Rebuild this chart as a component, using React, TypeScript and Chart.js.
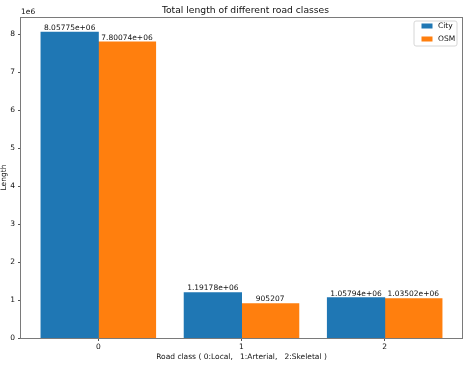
import React, { useEffect, useRef } from "react";
import { Chart, registerables } from "chart.js";

Chart.register(...registerables);

const categories = [0, 1, 2];
const cityValues = [8057750, 1191780, 1057940];
const osmValues = [7800740, 905207, 1035020];
const seriesNames = ["City", "OSM"];
const seriesColors = ["#1f77b4", "#ff7f0e"];
const yTicks = [0, 1, 2, 3, 4, 5, 6, 7, 8];
const yScaleFactor = 1e6;
const titleText = "Total length of different road classes";
const xTitle = "Road class ( 0:Local,   1:Arterial,   2:Skeletal )";
const yTitle = "Length";

const FONT = "'DejaVu Sans', sans-serif";
const FS = 7.5;
const TFS = 9.2;

function fmtG(v: number): string {
  if (v === 0) return "0";
  const e = Math.floor(Math.log10(Math.abs(v)));
  if (e < -4 || e >= 6) {
    const s = v.toExponential(5);
    let [m, ex] = s.split("e");
    if (m.includes(".")) m = m.replace(/\.?0+$/, "");
    const sign = ex[0] === "-" ? "-" : "+";
    let d = ex.replace(/[+-]/, "");
    if (d.length < 2) d = "0" + d;
    return m + "e" + sign + d;
  }
  return String(Number(v.toPrecision(6)));
}

const decorPlugin = {
  id: "decor",
  afterDatasetsDraw(chart: any) {
    const ctx = chart.ctx;
    const { left, right, top, bottom } = chart.chartArea;
    ctx.save();
    // bar labels
    ctx.font = `${FS}px ${FONT}`;
    ctx.fillStyle = "#111";
    ctx.textAlign = "center";
    ctx.textBaseline = "bottom";
    chart.data.datasets.forEach((ds: any, di: number) => {
      const meta = chart.getDatasetMeta(di);
      meta.data.forEach((el: any, i: number) => {
        const v = ds.data[i].y;
        ctx.fillText(fmtG(v), el.x, el.y - 0.5);
      });
    });
    // spines
    ctx.strokeStyle = "#7a7a7a";
    ctx.lineWidth = 1;
    ctx.strokeRect(Math.round(left) - 0.5, Math.round(top) + 0.5, Math.round(right - left) + 1, Math.round(bottom - top));
    // title
    ctx.font = `${TFS}px ${FONT}`;
    ctx.fillStyle = "#111";
    ctx.textAlign = "center";
    ctx.textBaseline = "alphabetic";
    ctx.fillText(titleText, (left + right) / 2 + 4, top - 4);
    // 1e6 offset text
    ctx.font = `${FS}px ${FONT}`;
    ctx.textAlign = "left";
    ctx.fillStyle = "#111";
    ctx.fillText("1e" + Math.round(Math.log10(yScaleFactor)), left, top - 3);
    // legend
    const bw = 43, bh = 25;
    const bx = right - 5 - bw, by = top + 4;
    ctx.beginPath();
    const r = 2;
    ctx.moveTo(bx + r, by);
    ctx.arcTo(bx + bw, by, bx + bw, by + bh, r);
    ctx.arcTo(bx + bw, by + bh, bx, by + bh, r);
    ctx.arcTo(bx, by + bh, bx, by, r);
    ctx.arcTo(bx, by, bx + bw, by, r);
    ctx.closePath();
    ctx.fillStyle = "rgba(255,255,255,0.8)";
    ctx.fill();
    ctx.strokeStyle = "#d6d6d6";
    ctx.stroke();
    ctx.textBaseline = "middle";
    seriesNames.forEach((name, i) => {
      const cy = by + 5 + i * 13;
      ctx.fillStyle = seriesColors[i];
      ctx.fillRect(bx + 7.5, cy - 2.5, 11, 5);
      ctx.fillStyle = "#111";
      ctx.fillText(name, bx + 24, cy);
    });
    ctx.restore();
  },
};

export default function App() {
  const ref = useRef<HTMLCanvasElement>(null);
  useEffect(() => {
    if (!ref.current) return;
    Chart.defaults.font.family = FONT;
    Chart.defaults.font.size = FS;
    const allVals = [...cityValues, ...osmValues];
    const ymax = Math.max(...allVals) * 1.05;
    const chart = new Chart(ref.current, {
      type: "bar",
      data: {
        datasets: [
          {
            label: seriesNames[0],
            data: categories.map((c, i) => ({ x: c, y: cityValues[i] })),
            backgroundColor: seriesColors[0],
            categoryPercentage: 0.8,
            barPercentage: 1.0,
            inflateAmount: 0.5,
          },
          {
            label: seriesNames[1],
            data: categories.map((c, i) => ({ x: c, y: osmValues[i] })),
            backgroundColor: seriesColors[1],
            categoryPercentage: 0.8,
            barPercentage: 1.0,
            inflateAmount: 0.5,
          },
        ],
      },
      options: {
        animation: false,
        responsive: false,
        devicePixelRatio: 1,
        layout: { padding: { top: 17, right: 12, left: 0, bottom: 0 } },
        plugins: {
          legend: { display: false },
          title: { display: false },
          tooltip: { enabled: false },
        },
        scales: {
          x: {
            type: "linear",
            min: -0.54,
            max: 2.54,
            offset: false,
            grid: {
              offset: false,
              drawOnChartArea: false,
              drawTicks: true,
              tickLength: 3,
              color: "#555",
            },
            border: { display: false },
            afterBuildTicks: (scale: any) => {
              scale.ticks = categories.map((v) => ({ value: v }));
            },
            ticks: {
              color: "#111",
              padding: 2,
              maxRotation: 0,
              autoSkip: false,
              callback: (v: any) => String(v),
            },
            title: {
              display: true,
              text: xTitle,
              color: "#111",
              padding: { top: 0, bottom: 4 },
            },
            afterFit: (scale: any) => {
              scale.height = 28;
            },
          },
          y: {
            type: "linear",
            min: 0,
            max: ymax,
            grid: {
              drawOnChartArea: false,
              drawTicks: true,
              tickLength: 3,
              color: "#555",
            },
            border: { display: false },
            afterBuildTicks: (scale: any) => {
              scale.ticks = yTicks.map((v) => ({ value: v * yScaleFactor }));
            },
            ticks: {
              color: "#111",
              padding: 3,
              autoSkip: false,
              callback: (v: any) => String(Math.round(v / yScaleFactor)),
            },
            title: {
              display: true,
              text: yTitle,
              color: "#111",
              padding: { top: 0, bottom: 0 },
            },
            afterFit: (scale: any) => {
              scale.width = 21;
            },
          },
        },
      } as any,
      plugins: [decorPlugin],
    });
    return () => chart.destroy();
  }, []);
  return (
    <div style={{ position: "fixed", left: 0, top: 0, width: 474, height: 366, background: "#fff" }}>
      <canvas ref={ref} width={474} height={366} style={{ width: 474, height: 366, display: "block" }} />
    </div>
  );
}
